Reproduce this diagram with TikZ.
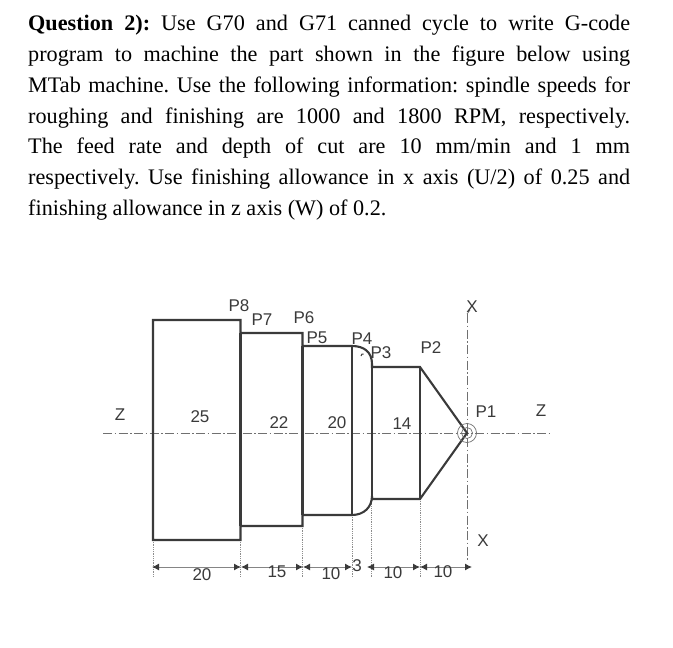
\documentclass[tikz,border=0pt]{standalone}
\usepackage{fontspec}
\setmainfont{Liberation Serif}
\newfontfamily\labelfont{Liberation Sans}
\usetikzlibrary{arrows.meta}
\definecolor{ink}{HTML}{3A3A3A}
\definecolor{soft}{HTML}{707070}
\tikzset{
  x=1pt,y=-1pt,
  para/.style={anchor=base west,inner sep=0pt,font=\frenchspacing\fontsize{22.2}{26}\selectfont,text=black},
  part/.style={draw=ink,line width=2.1pt,line join=miter},
  axis/.style={draw=soft,line width=0.7pt,dash pattern=on 9pt off 2.5pt on 1.5pt off 2.5pt},
  ext/.style={draw=soft!80,line width=0.8pt,densely dotted},
  dim/.style={draw=soft!85,line width=1pt,{Latex[length=7pt,width=7pt,color=ink]}-{Latex[length=7pt,width=7pt,color=ink]}},
  lab/.style={inner sep=0pt,text=ink,font=\labelfont\fontsize{17}{18}\selectfont},
}
\newcommand{\just}[1]{\makebox[602pt][s]{#1}}
\begin{document}
\begin{tikzpicture}
\useasboundingbox (0,0) rectangle (673,648);
% question text
\node[para] (l1) at (28,30)  {\just{\textbf{Question 2):} Use G70 and G71 canned cycle to write G-code}};
\node[para] (l2) at (28,61)  {\just{program to machine the part shown in the figure below using}};
\node[para] (l3) at (28,92)  {\just{MTab machine. Use the following information: spindle speeds for}};
\node[para] (l4) at (28,123) {\just{roughing and finishing are 1000 and 1800 RPM, respectively.}};
\node[para] (l5) at (28,153) {\just{The feed rate and depth of cut are 10 mm/min and 1 mm}};
\node[para] (l6) at (28,184) {\just{respectively. Use finishing allowance in x axis (U/2) of 0.25 and}};
\node[para] (l7) at (28,215) {finishing allowance in z axis (W) of 0.2.};
% axes
\coordinate (zl) at (103,433); \coordinate (zr) at (550,433);
\coordinate (xt) at (467,314); \coordinate (xb) at (467,560);
\draw[axis] (zl) -- (zr);
\draw[axis] (xt) -- (xb);
\draw[soft,line width=0.7pt] (xt) -- (470,310);
% extension lines
\foreach \nm/\px/\py in {a/153/540,b/240.5/540,c/302.5/526,d/352/515,e/371/499,f/420/499}{
  \coordinate (e\nm) at (\px,\py);
  \coordinate (g\nm) at (\px,577);
  \draw[ext] (e\nm) -- (g\nm);
}
% part outline
\draw[part] (153,540) -- (153,320) -- (240.5,320) -- (240.5,333) -- (302.5,333) -- (302.5,346)
  -- (352,346) .. controls (364,346) and (372,352) .. (372,364) -- (372,367) -- (420,367)
  -- (467,433) -- (420,499) -- (372,499) -- (372,496) .. controls (372,507) and (364,515) .. (352,515)
  -- (302.5,515) -- (302.5,526) -- (240.5,526) -- (240.5,540) -- cycle;
\draw[part] (240.5,333) -- (240.5,526);
\draw[part] (302.5,346) -- (302.5,515);
\draw[part] (352,346) -- (352,515);
\draw[part] (372,367) -- (372,499);
\draw[part] (420,367) -- (420,499);
\draw[ink,line width=1pt] (361,356) -- (362,354) -- (363.5,354);
% datum rings
\coordinate (p1) at (467,433);
\draw[soft,line width=0.7pt] (p1) circle (9.5pt);
\draw[soft,line width=0.7pt] (p1) circle (5.5pt);
% dimension line
\coordinate (d0) at (152,567); \coordinate (d1) at (241,567);
\coordinate (d2) at (303,567); \coordinate (d3) at (352,567);
\coordinate (d4) at (367,567); \coordinate (d5) at (420,567);
\coordinate (d6) at (472,567);
\draw[dim] (d0) -- (d1);
\draw[dim] (d1) -- (d2);
\draw[dim] (d2) -- (d3);
\draw[dim] (d4) -- (d5);
\draw[dim] (d5) -- (d6);
% labels
\node[lab] (zleft) at (120,415) {Z};
\node[lab] (zright) at (541,411) {Z};
\node[lab] (xtop) at (472,307) {X};
\node[lab] (xbot) at (483,541) {X};
\node[lab] (p8) at (239,306) {P8};
\node[lab] (p7) at (262,320) {P7};
\node[lab] (p6) at (304,318) {P6};
\node[lab] (p5) at (317,338) {P5};
\node[lab] (p4) at (362,339) {P4};
\node[lab] (p3) at (381,353) {P3};
\node[lab] (p2) at (431,348) {P2};
\node[lab] (lp1) at (486,412) {P1};
\node[lab] (d25) at (200,417) {25};
\node[lab] (d22) at (279,423) {22};
\node[lab] (d20) at (337,423) {20};
\node[lab] (d14) at (402,424) {14};
\node[lab] (b20) at (202,575) {20};
\node[lab] (b15) at (277,572) {15};
\node[lab] (b10a) at (331,574) {10};
\node[lab] (b3) at (357,566) {3};
\node[lab] (b10b) at (393,573) {10};
\node[lab] (b10c) at (443,572) {10};
\end{tikzpicture}
\end{document}
